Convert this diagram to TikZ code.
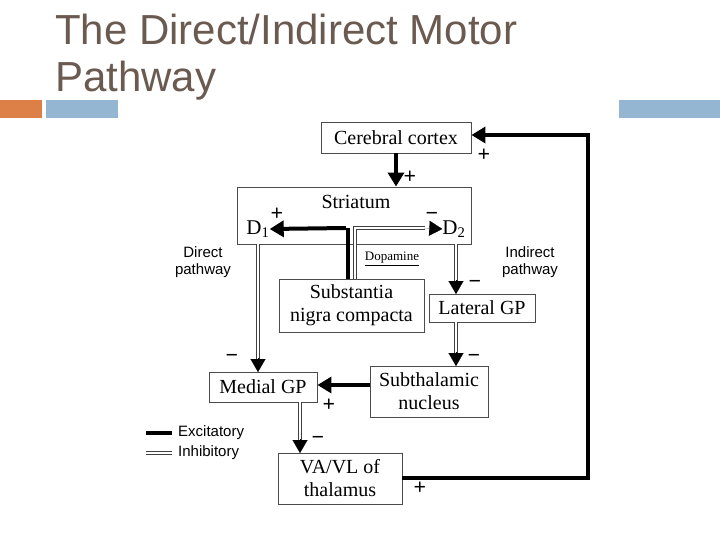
\documentclass[tikz,border=0pt]{standalone}
\usepackage{fontspec}
\setmainfont{Liberation Serif}
\newfontfamily\sansf{Liberation Sans}
\usetikzlibrary{arrows.meta,calc}
\definecolor{titlec}{HTML}{6B5A50}
\definecolor{barblue}{HTML}{94B6D2}
\definecolor{barorange}{HTML}{DD8047}
\begin{document}
\begin{tikzpicture}[x=1pt,y=-1pt,
  box/.style={draw=black!70,line width=0.9pt,inner sep=0pt,align=center,font=\fontsize{20}{23}\selectfont},
  exc/.style={line width=4pt,-{Triangle[width=16pt,length=14pt]}},
  inh/.style={draw=black!75,double=white,double distance=2pt,line width=1pt},
  tip/.style={line width=0.1pt,-{Triangle[width=15pt,length=13pt]}},
  sgn/.style={font=\bfseries\fontsize{22}{22}\selectfont,inner sep=0pt},
  lab/.style={font=\sansf\fontsize{15}{17}\selectfont,align=center,inner sep=0pt}]
\useasboundingbox (0,0) rectangle (720,540);
\fill[white] (0,0) rectangle (720,540);
% title and bars
\node[anchor=north west,font=\sansf\fontsize{42}{47}\selectfont,text=titlec,align=left,inner sep=0pt] (title) at (55,14) {The Direct/Indirect Motor\\Pathway};
\fill[barorange] (0,100) rectangle (42,118);
\fill[barblue] (46,100) rectangle (118,118);
\fill[barblue] (619,100) rectangle (720,118);
% boxes
\node[box,minimum width=150pt,minimum height=31pt] (cc) at (396,137.5) {Cerebral cortex};
\node[box,minimum width=234pt,minimum height=57pt] (str) at (354,215.5) {};
\node[font=\fontsize{20}{23}\selectfont] (strl) at (356,202) {Striatum};
\node[font=\fontsize{21}{21}\selectfont,inner sep=0pt] (d1) at (258,229) {D\textsubscript{1}};
\node[font=\fontsize{21}{21}\selectfont,inner sep=0pt] (d2) at (454,229) {D\textsubscript{2}};
\node[box,minimum width=145pt,minimum height=53pt] (snc) at (351.5,305.5) {Substantia\\nigra compacta};
\node[box,minimum width=106pt,minimum height=28pt] (lgp) at (482,308) {Lateral GP};
\node[box,minimum width=108pt,minimum height=30pt] (mgp) at (263,387) {Medial GP};
\node[box,minimum width=118pt,minimum height=51pt] (stn) at (429,391.5) {Subthalamic\\nucleus};
\node[box,minimum width=124pt,minimum height=51pt] (th) at (340,478.5) {VA/VL of\\thalamus};
% labels
\node[lab] (dp) at (203,262) {Direct\\pathway};
\node[lab] (ip) at (530,262) {Indirect\\pathway};
\node[font=\fontsize{13}{13}\selectfont,inner sep=0pt] (dop) at (392,259) {\underline{Dopamine}};
% cortex -> striatum
\draw[exc] (cc.south) -- (cc.south |- str.north);
\node[sgn] (p1) at (410,177) {+};
% thalamus -> cortex loop
\draw[exc] (th.east |- 0,478) -- (588,478) -- (588,135) -- (cc.east |- 0,135);
\node[sgn] (p2) at (420,488) {+};
\node[sgn] (p3) at (484,155) {+};
% dopamine
\draw[line width=4pt] (348,279) -- (348,228);
\draw[exc] (346,228) -- (d1.east);
\draw[inh] (354.5,279) -- (354.5,228) -- (425,228);
\draw[tip] (424,228) -- (d2.west);
\node[sgn] (p4) at (277,214) {+};
\node[sgn] (m1) at (432,216) {\textminus};
% D1 -> medial GP
\draw[inh] (258,244) -- (258,360);
\draw[tip] (258,358) -- (258,372);
\node[sgn] (m2) at (232,358) {\textminus};
% D2 -> lateral GP
\draw[inh] (456,244) -- (456,282);
\draw[tip] (456,280) -- (456,294);
\node[sgn] (m3) at (475,284) {\textminus};
% lateral GP -> STN
\draw[inh] (456,322) -- (456,354);
\draw[tip] (456,352) -- (456,366);
\node[sgn] (m4) at (474,358) {\textminus};
% STN -> medial GP
\draw[exc] (stn.west |- 0,385) -- (mgp.east |- 0,385);
\node[sgn] (p5) at (329,405) {+};
% medial GP -> thalamus
\draw[inh] (300,402) -- (300,441);
\draw[tip] (300,439) -- (300,453);
\node[sgn] (m5) at (318,440) {\textminus};
% legend
\draw[line width=4pt] (146,433) -- (172,433);
\node[lab,anchor=west] (le) at (178,433) {Excitatory};
\draw[inh] (146,453) -- (172,453);
\node[lab,anchor=west] (li) at (178,453) {Inhibitory};
\end{tikzpicture}
\end{document}
